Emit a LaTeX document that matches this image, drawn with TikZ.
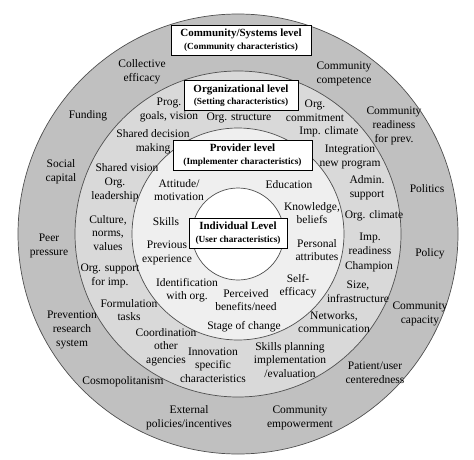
\documentclass[tikz,border=0pt]{standalone}
\usepackage{fontspec}
\setmainfont{Liberation Serif}
\usepackage{tikz}
\usetikzlibrary{positioning}
\definecolor{ringouter}{RGB}{192,192,192}
\definecolor{ringorg}{RGB}{217,217,217}
\definecolor{ringprov}{RGB}{239,239,239}
\definecolor{ringline}{RGB}{80,80,80}
\newcommand{\lvlsub}[1]{{\fontsize{9.3}{11}\selectfont #1}}

\begin{document}
\begin{tikzpicture}[x=1pt, y=-1pt,
        ring/.style={draw=ringline, line width=0.7pt},
        level/.style={rectangle, draw=black, fill=white, line width=0.7pt, align=center,
                      minimum height=30pt, inner sep=2pt, font=\fontsize{11}{12.5}\selectfont\bfseries},
        factor/.style={align=center, inner sep=0pt, font=\fontsize{11.5}{13.6}\selectfont}
    ]
        \useasboundingbox (0,0) rectangle (474,460);

        % rings
        \coordinate (c) at (238,234);
        \filldraw[ring, fill=ringouter] (c) circle[radius=220pt];
        \filldraw[ring, fill=ringorg] (c) circle[radius=163pt];
        \filldraw[ring, fill=ringprov] (c) circle[radius=106pt];
        \filldraw[ring, fill=white] (c) circle[radius=46pt];

        % level boxes
        \node[level, minimum width=140pt] (comm) at (241,40) {Community/Systems level\\\lvlsub{(Community characteristics)}};
        \node[level, minimum width=114pt] (org) at (241,95.5) {Organizational level\\\lvlsub{(Setting characteristics)}};
        \node[level, minimum width=139pt] (prov) at (242.5,155) {Provider level\\\lvlsub{(Implementer characteristics)}};
        \node[level, minimum width=98pt] (indiv) at (238,233) {Individual Level\\\lvlsub{(User characteristics)}};

        % community factors
        \node[factor] (colleff) at (142,72) {Collective\\efficacy};
        \node[factor] (funding) at (88,116) {Funding};
        \node[factor] (commcomp) at (344,74) {Community\\competence};
        \node[factor] (commready) at (394,126) {Community\\readiness\\for prev.};
        \node[factor] (social) at (61,172) {Social\\capital};
        \node[factor] (peer) at (49,246) {Peer\\pressure};
        \node[factor] (politics) at (427,189) {Politics};
        \node[factor] (policy) at (430,254) {Policy};
        \node[factor] (commcap) at (420,314) {Community\\capacity};
        \node[factor] (prevres) at (72,330) {Prevention\\research\\system};
        \node[factor] (cosmo) at (123,382) {Cosmopolitanism};
        \node[factor] (patient) at (375,373) {Patient/user\\centeredness};
        \node[factor] (external) at (189,418) {External\\policies/incentives};
        \node[factor] (empower) at (300,418) {Community\\empowerment};

        % organizational factors
        \node[factor] (goals) at (169,110) {Prog.\\goals, vision};
        \node[factor] (structure) at (239,118) {Org. structure};
        \node[factor] (commit) at (315,111) {Org.\\commitment};
        \node[factor] (impclim) at (329,132) {Imp. climate};
        \node[factor] (decision) at (153,142) {Shared decision\\making};
        \node[factor] (integr) at (350,157) {Integration\\new program};
        \node[factor] (vision) at (127,168) {Shared vision};
        \node[factor] (leader) at (115,190) {Org.\\leadership};
        \node[factor] (admin) at (367,188) {Admin.\\support};
        \node[factor] (orgclim) at (374,216) {Org. climate};
        \node[factor] (culture) at (108,233) {Culture,\\norms,\\values};
        \node[factor] (impready) at (370,244) {Imp.\\readiness};
        \node[factor] (orgsupp) at (110,276) {Org. support\\for imp.};
        \node[factor] (champ) at (369,267) {Champion};
        \node[factor] (formul) at (129,310) {Formulation\\tasks};
        \node[factor] (size) at (358,292) {Size,\\infrastructure};
        \node[factor] (coord) at (166,347) {Coordination\\other\\agencies};
        \node[factor] (networks) at (334,322) {Networks,\\communication};
        \node[factor] (innov) at (213,365) {Innovation\\specific\\characteristics};
        \node[factor] (skillplan) at (290,360) {Skills planning\\implementation\\/evaluation};

        % provider factors
        \node[factor] (attitude) at (179,190) {Attitude/\\motivation};
        \node[factor] (educ) at (289,185) {Education};
        \node[factor] (knowl) at (312,213) {Knowledge,\\beliefs};
        \node[factor] (skills) at (166,222) {Skills};
        \node[factor] (prevexp) at (167,253) {Previous\\experience};
        \node[factor] (persattr) at (317,250) {Personal\\attributes};
        \node[factor] (ident) at (187,290) {Identification\\with org.};
        \node[factor] (benefit) at (246,300) {Perceived\\benefits/need};
        \node[factor] (selfeff) at (298,286) {Self-\\efficacy};
        \node[factor] (stage) at (244,327) {Stage of change};
    \end{tikzpicture}
\end{document}
